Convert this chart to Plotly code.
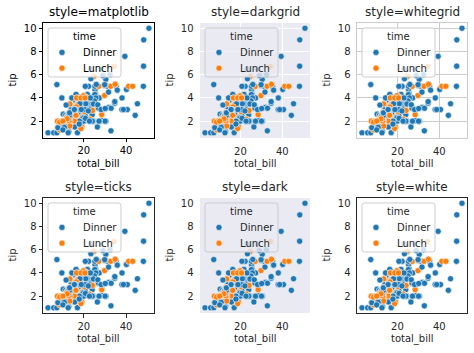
import plotly.graph_objects as go

# ---- data (tips dataset) ----
total_bill = [
    16.99, 10.34, 21.01, 23.68, 24.59, 25.29, 8.77, 26.88, 15.04, 14.78,
    10.27, 35.26, 15.42, 18.43, 14.83, 21.58, 10.33, 16.29, 16.97, 20.65,
    17.92, 20.29, 15.77, 39.42, 19.82, 17.81, 13.37, 12.69, 21.70, 19.65,
    9.55, 18.35, 15.06, 20.69, 17.78, 24.06, 16.31, 16.93, 18.69, 31.27,
    16.04, 17.46, 13.94, 9.68, 30.40, 18.29, 22.23, 32.40, 28.55, 18.04,
    12.54, 10.29, 34.81, 9.94, 25.56, 19.49, 38.01, 26.41, 11.24, 48.27,
    20.29, 13.81, 11.02, 18.29, 17.59, 20.08, 16.45, 3.07, 20.23, 15.01,
    12.02, 17.07, 26.86, 25.28, 14.73, 10.51, 17.92, 27.20, 22.76, 17.29,
    19.44, 16.66, 10.07, 32.68, 15.98, 34.83, 13.03, 18.28, 24.71, 21.16,
    28.97, 22.49, 5.75, 16.32, 22.75, 40.17, 27.28, 12.03, 21.01, 12.46,
    11.35, 15.38, 44.30, 22.42, 20.92, 15.36, 20.49, 25.21, 18.24, 14.31,
    14.00, 7.25, 38.07, 23.95, 25.71, 17.31, 29.93, 10.65, 12.43, 24.08,
    11.69, 13.42, 14.26, 15.95, 12.48, 29.80, 8.52, 14.52, 11.38, 22.82,
    19.08, 20.27, 11.17, 12.26, 18.26, 8.51, 10.33, 14.15, 16.00, 13.16,
    17.47, 34.30, 41.19, 27.05, 16.43, 8.35, 18.64, 11.87, 9.78, 7.51,
    14.07, 13.13, 17.26, 24.55, 19.77, 29.85, 48.17, 25.00, 13.39, 16.49,
    21.50, 12.66, 16.21, 13.81, 17.51, 24.52, 20.76, 31.71, 10.59, 10.63,
    50.81, 15.81, 7.25, 31.85, 16.82, 32.90, 17.89, 14.48, 9.60, 34.63,
    34.65, 23.33, 45.35, 23.17, 40.55, 20.69, 20.90, 30.46, 18.15, 23.10,
    15.69, 19.81, 28.44, 15.48, 16.58, 7.56, 10.34, 43.11, 13.00, 13.51,
    18.71, 12.74, 13.00, 16.40, 20.53, 16.47, 26.59, 38.73, 24.27, 12.76,
    30.06, 25.89, 48.33, 13.27, 28.17, 12.90, 28.15, 11.59, 7.74, 30.14,
    12.16, 13.42, 8.58, 15.98, 13.42, 16.27, 10.09, 20.45, 13.28, 22.12,
    24.01, 15.69, 11.61, 10.77, 15.53, 10.07, 12.60, 32.83, 35.83, 29.03,
    27.18, 22.67, 17.82, 18.78,
]
tip = [
    1.01, 1.66, 3.50, 3.31, 3.61, 4.71, 2.00, 3.12, 1.96, 3.23,
    1.71, 5.00, 1.57, 3.00, 3.02, 3.92, 1.67, 3.71, 3.50, 3.35,
    4.08, 2.75, 2.23, 7.58, 3.18, 2.34, 2.00, 2.00, 4.30, 3.00,
    1.45, 2.50, 3.00, 2.45, 3.27, 3.60, 2.00, 3.07, 2.31, 5.00,
    2.24, 2.54, 3.06, 1.32, 5.60, 3.00, 5.00, 6.00, 2.05, 3.00,
    2.50, 2.60, 5.20, 1.56, 4.34, 3.51, 3.00, 1.50, 1.76, 6.73,
    3.21, 2.00, 1.98, 3.76, 2.64, 3.15, 2.47, 1.00, 2.01, 2.09,
    1.97, 3.00, 3.14, 5.00, 2.20, 1.25, 3.08, 4.00, 3.00, 2.71,
    3.00, 3.40, 1.83, 5.00, 2.03, 5.17, 2.00, 4.00, 5.85, 3.00,
    3.00, 3.50, 1.00, 4.30, 3.25, 4.73, 4.00, 1.50, 3.00, 1.50,
    2.50, 3.00, 2.50, 3.48, 4.08, 1.64, 4.06, 4.29, 3.76, 4.00,
    3.00, 1.00, 4.00, 2.55, 4.00, 3.50, 5.07, 1.50, 1.80, 2.92,
    2.31, 1.68, 2.50, 2.00, 2.52, 4.20, 1.48, 2.00, 2.00, 2.18,
    1.50, 2.83, 1.50, 2.00, 3.25, 1.25, 2.00, 2.00, 2.00, 2.75,
    3.50, 6.70, 5.00, 5.00, 2.30, 1.50, 1.36, 1.63, 1.73, 2.00,
    2.50, 2.00, 2.74, 2.00, 2.00, 5.14, 5.00, 3.75, 2.61, 2.00,
    3.50, 2.50, 2.00, 2.00, 3.00, 3.48, 2.24, 4.50, 1.61, 2.00,
    10.00, 3.16, 5.15, 3.18, 4.00, 3.11, 2.00, 2.00, 4.00, 3.55,
    3.68, 5.65, 3.50, 6.50, 3.00, 5.00, 3.50, 2.00, 3.50, 4.00,
    1.50, 4.19, 2.56, 2.02, 4.00, 1.44, 2.00, 5.00, 2.00, 2.00,
    4.00, 2.01, 2.00, 2.50, 4.00, 3.23, 3.41, 3.00, 2.03, 2.23,
    2.00, 5.16, 9.00, 2.50, 6.50, 1.10, 3.00, 1.50, 1.44, 3.09,
    2.20, 3.48, 1.92, 3.00, 1.58, 2.50, 2.00, 3.00, 2.72, 2.88,
    2.00, 3.00, 3.39, 1.47, 3.00, 1.25, 1.00, 1.17, 4.67, 5.92,
    2.00, 2.00, 1.75, 3.00,
]
# D = Dinner, L = Lunch, in row order
time_code = (
    "DDDDDDDDDDDDDDDDDDDD"
    "DDDDDDDDDDDDDDDDDDDD"
    "DDDDDDDDDDDDDDDDDDDD"
    "DDDDDDDDDDDDDDDDDLLL"
    "LLLLLLLLLLDDDDDDDDDD"
    "DDDDDDDDDDDDDDDDDLLL"
    "LLLLLLLLLLLLLLLLLLLL"
    "LLLLLLLLLLDDDDDDDDDD"
    "DDDDDDDDDDDDDDDDDDDD"
    "DDDDDDDDDDDLLLLLLLLL"
    "LLLLLLDDDDDDDDDDDDDD"
    "LLLLLLLDDDDDDDDDDDDD"
    "DDDD"
)
time = ["Dinner" if c == "D" else "Lunch" for c in time_code]
assert len(total_bill) == len(tip) == len(time) == 244

styles = ["matplotlib", "darkgrid", "whitegrid", "ticks", "dark", "white"]
hue_order = ["Dinner", "Lunch"]
legend_title = "time"
x_ticks = [20, 40]
y_ticks = [2, 4, 6, 8, 10]

# ---- styling ----
palette = {"Dinner": "#1f77b4", "Lunch": "#ff7f0e"}
W, H = 474, 353
FONT = "DejaVu Sans"
col_px = [(43, 154), (200, 310), (357, 467)]
row_px = [(23, 138), (198, 313)]
x_range = [0.68, 53.2]
y_range = [0.55, 10.45]

cfg = {
    "matplotlib": dict(bg=None, grid=None, spine="#000000", spinew=0.8, ticks=True, text="#000000"),
    "darkgrid": dict(bg="#EAEAF2", grid="#FFFFFF", spine=None, spinew=0, ticks=False, text="#262626"),
    "whitegrid": dict(bg=None, grid="#CCCCCC", spine="#CCCCCC", spinew=1.0, ticks=False, text="#262626"),
    "ticks": dict(bg=None, grid=None, spine="#262626", spinew=1.0, ticks=True, text="#262626"),
    "dark": dict(bg="#EAEAF2", grid=None, spine=None, spinew=0, ticks=False, text="#262626"),
    "white": dict(bg=None, grid=None, spine="#262626", spinew=1.0, ticks=False, text="#262626"),
}


def px(x, y):
    return x / W, 1 - y / H


fig = go.Figure()
layout = dict(
    width=W, height=H, autosize=False,
    margin=dict(l=0, r=0, t=0, b=0),
    paper_bgcolor="white", plot_bgcolor="rgba(0,0,0,0)",
    font=dict(family=FONT, size=10, color="#262626"),
    hovermode=False, showlegend=False,
)
annotations = []
shapes = []

for i, style in enumerate(styles):
    r, c = divmod(i, 3)
    n = i + 1
    sfx = "" if n == 1 else str(n)
    c0, c1 = col_px[c]
    r0, r1 = row_px[r]
    xd = [c0 / W, c1 / W]
    yd = [1 - r1 / H, 1 - r0 / H]
    s = cfg[style]

    fig.add_trace(go.Scatter(
        x=total_bill, y=tip, mode="markers",
        marker=dict(color=[palette[t] for t in time], size=6.2,
                    line=dict(color="white", width=0.6)),
        showlegend=False, xaxis="x" + sfx, yaxis="y" + sfx,
    ))

    common = dict(
        showgrid=s["grid"] is not None, gridcolor=s["grid"] or "white", gridwidth=1,
        zeroline=False,
        showline=s["spine"] is not None, linecolor=s["spine"] or "white",
        linewidth=s["spinew"] or 1, mirror=True,
        ticks="outside", ticklen=3.5, tickwidth=0.8,
        tickcolor=s["spine"] if s["ticks"] else "rgba(0,0,0,0)",
        tickfont=dict(family=FONT, size=10, color=s["text"]),
        fixedrange=True,
    )
    layout["xaxis" + sfx] = dict(common, domain=xd, range=x_range, tickvals=x_ticks,
                                 anchor="y" + sfx)
    layout["yaxis" + sfx] = dict(common, domain=yd, range=y_range, tickvals=y_ticks,
                                 anchor="x" + sfx)

    if s["bg"]:
        shapes.append(dict(type="rect", xref=f"x{sfx} domain", yref=f"y{sfx} domain",
                           x0=0, x1=1, y0=0, y1=1, fillcolor=s["bg"],
                           line=dict(width=0), layer="below"))

    # ---- legend (matplotlib-style box, drawn on top of the points) ----
    bl, bt = c0 + 5, r0 + 5
    bw, bh, rad = 73, 49, 2.5
    br, bb = bl + bw, bt + bh
    pts = [
        ("M", bl + rad, bt), ("L", br - rad, bt), ("Q", br, bt, br, bt + rad),
        ("L", br, bb - rad), ("Q", br, bb, br - rad, bb), ("L", bl + rad, bb),
        ("Q", bl, bb, bl, bb - rad), ("L", bl, bt + rad), ("Q", bl, bt, bl + rad, bt),
    ]
    path = ""
    for p in pts:
        cmd, coords = p[0], p[1:]
        segs = []
        for k in range(0, len(coords), 2):
            fx, fy = px(coords[k], coords[k + 1])
            segs.append(f"{fx:.5f},{fy:.5f}")
        path += cmd + " ".join(segs) + " "
    path += "Z"
    leg_bg = "rgba(234,234,242,0.8)" if s["bg"] else "rgba(255,255,255,0.8)"
    shapes.append(dict(type="path", xref="paper", yref="paper", path=path,
                       fillcolor=leg_bg, line=dict(color="#CCCCCC", width=1),
                       layer="above"))
    tx, ty = px(bl + bw / 2, bt + 8.5)
    annotations.append(dict(text=legend_title, xref="paper", yref="paper", x=tx, y=ty,
                            xanchor="center", yanchor="middle", showarrow=False,
                            font=dict(family=FONT, size=10, color=s["text"])))
    for k, h in enumerate(hue_order):
        my = bt + 24.4 + 15.8 * k
        mx, myp = px(bl + 14, my)
        shapes.append(dict(type="circle", xref="paper", yref="paper",
                           xsizemode="pixel", ysizemode="pixel",
                           xanchor=mx, yanchor=myp, x0=-3.1, x1=3.1, y0=-3.1, y1=3.1,
                           fillcolor=palette[h], line=dict(color="white", width=0.6),
                           layer="above"))
        lx, ly = px(bl + 33.4, my)
        annotations.append(dict(text=h, xref="paper", yref="paper", x=lx, y=ly,
                                xanchor="left", yanchor="middle", showarrow=False,
                                font=dict(family=FONT, size=10, color=s["text"])))

    # title
    annotations.append(dict(
        text=f"style={style}", xref="paper", yref="paper",
        x=(c0 + c1) / 2 / W, y=1 - r0 / H, xanchor="center", yanchor="middle",
        yshift=11, showarrow=False,
        font=dict(family=FONT, size=12, color=s["text"]),
    ))
    # x label
    annotations.append(dict(
        text="total_bill", xref="paper", yref="paper",
        x=(c0 + c1) / 2 / W, y=1 - (r1 + 26) / H, xanchor="center", yanchor="middle",
        showarrow=False, font=dict(family=FONT, size=10, color=s["text"]),
    ))
    # y label
    annotations.append(dict(
        text="tip", xref="paper", yref="paper", textangle=-90,
        x=(c0 - 31) / W, y=1 - (r0 + r1) / 2 / H, xanchor="center", yanchor="middle",
        showarrow=False, font=dict(family=FONT, size=10, color=s["text"]),
    ))

layout["annotations"] = annotations
layout["shapes"] = shapes
fig.update_layout(**layout)
fig.write_html("out.html")
